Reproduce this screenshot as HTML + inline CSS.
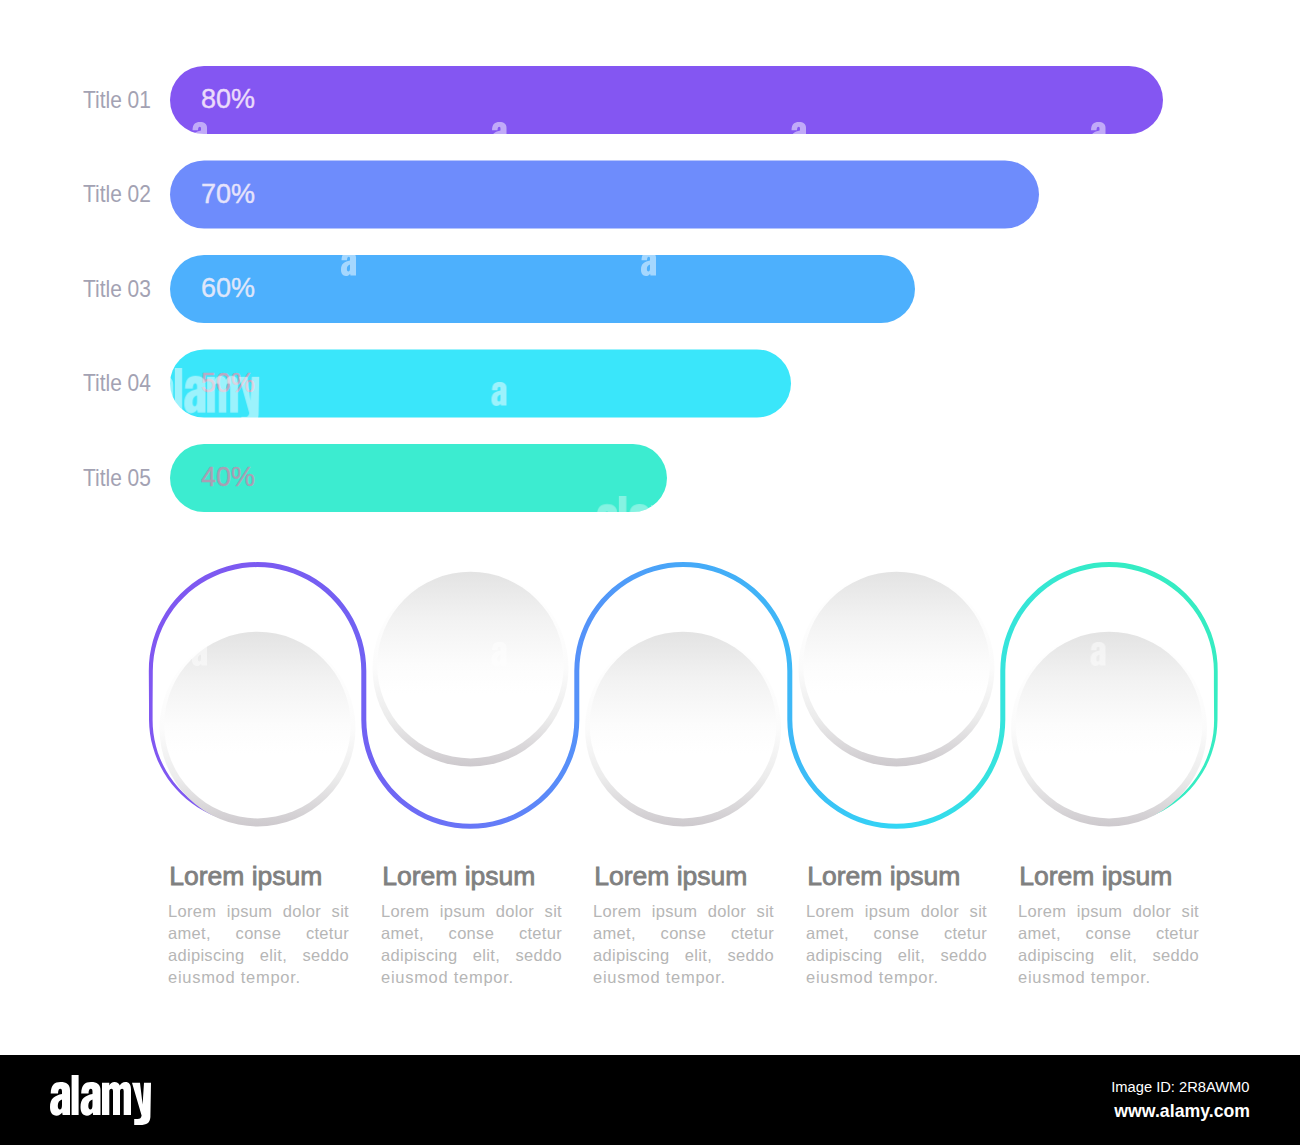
<!DOCTYPE html>
<html>
<head>
<meta charset="utf-8">
<title>Bar chart infographic</title>
<style>
  html, body { margin: 0; padding: 0; background: #ffffff; }
  body { width: 1300px; height: 1145px; position: relative; overflow: hidden;
         font-family: "Liberation Sans", sans-serif; }
  #gfx { position: absolute; left: 0; top: 0; }
  .title { position: absolute; left: 83px; width: 80px; height: 30px; line-height: 30px;
           font-size: 24.5px; color: #a3a2b3; white-space: nowrap;
           transform-origin: 0 50%; transform: scaleX(0.855); margin-top: 0.5px; }
  .pct { position: absolute; left: 201px; height: 30px; line-height: 30px;
         font-size: 27px; white-space: nowrap; transform-origin: 0 50%; transform: scaleX(1.0); -webkit-text-stroke: 0.4px currentColor; }
  .col { position: absolute; top: 860px; width: 181px; }
  .col h3 { margin: 0; font-size: 26.5px; line-height: 32px; font-weight: normal; color: #808080;
            white-space: nowrap; transform-origin: 0 50%; transform: scaleX(1.0); -webkit-text-stroke: 0.8px currentColor; margin-left: 1.2px; }
  .col p { margin: 7.5px 0 0 0; font-size: 16.5px; line-height: 22.2px; color: #b6b6b6; }
  .col p span { display: block; text-align: justify; text-align-last: justify; white-space: nowrap; letter-spacing: 0.3px; }
  .col p span.last { text-align: left; text-align-last: left; letter-spacing: 0.72px; }
  #footer { position: absolute; left: 0; top: 1055px; width: 1300px; height: 90px; background: #000; }
  #imgid { position: absolute; right: 50.5px; top: 1078px; color: #fff; font-size: 14.7px; line-height: 18px; white-space: nowrap; }
  #www { position: absolute; right: 50px; top: 1101px; color: #fff; font-size: 17.7px; line-height: 20px; font-weight: bold; white-space: nowrap; }
</style>
</head>
<body>
<svg id="gfx" width="1300" height="1145" viewBox="0 0 1300 1145">
  <defs>
    <linearGradient id="lineGrad" gradientUnits="userSpaceOnUse" x1="150" y1="0" x2="1216" y2="0">
      <stop offset="0" stop-color="#8057f1"/>
      <stop offset="0.1" stop-color="#7b5af1"/>
      <stop offset="0.2" stop-color="#7161f3"/>
      <stop offset="0.3" stop-color="#6876f7"/>
      <stop offset="0.4" stop-color="#5591f9"/>
      <stop offset="0.5" stop-color="#46a8f8"/>
      <stop offset="0.6" stop-color="#3eb8f7"/>
      <stop offset="0.7" stop-color="#32d6f5"/>
      <stop offset="0.8" stop-color="#36e4dc"/>
      <stop offset="0.9" stop-color="#34ecc4"/>
      <stop offset="1" stop-color="#36ecc2"/>
    </linearGradient>
    <linearGradient id="rimGrad" x1="0" y1="0" x2="0" y2="1">
      <stop offset="0" stop-color="#ffffff"/>
      <stop offset="0.5" stop-color="#fbfbfb"/>
      <stop offset="0.75" stop-color="#ececec"/>
      <stop offset="1" stop-color="#cdc9cd"/>
    </linearGradient>
    <linearGradient id="discGrad" x1="0" y1="0" x2="0" y2="1">
      <stop offset="0" stop-color="#e3e3e3"/>
      <stop offset="0.25" stop-color="#f2f2f2"/>
      <stop offset="0.5" stop-color="#fcfcfc"/>
      <stop offset="0.65" stop-color="#ffffff"/>
      <stop offset="1" stop-color="#ffffff"/>
    </linearGradient>
    <g id="alamy">
      <path id="ga" fill-rule="evenodd" d="M300 500 L300 250 C300 195 265 170 205 170 C145 170 110 198 107 285 L180 285 C182 250 190 238 203 238 C216 238 220 250 220 270 L220 290 C150 305 100 330 100 420 C100 475 125 507 165 507 C190 507 208 495 222 475 L226 500 Z M220 345 C190 355 178 375 178 410 C178 432 186 445 198 445 C212 445 220 430 220 400 Z"/>
      <rect x="316" y="100" width="70" height="400"/>
      <use href="#ga" x="305"/>
      <path d="M620 178 H693 V205 C703 182 720 170 745 170 C772 170 790 182 798 205 C810 182 828 170 853 170 C892 170 910 195 910 245 V500 H837 V262 C837 245 832 237 821 237 C808 237 800 247 800 265 V500 H730 V262 C730 245 725 237 714 237 C701 237 693 247 693 265 V500 H620 Z"/>
      <path d="M920 178 H1000 L1026 395 L1040 178 H1110 L1104 520 C1100 580 1068 600 1000 600 H942 V540 H975 C1000 540 1013 530 1016 505 Z"/>
    </g>
  </defs>

  <!-- bars -->
  <rect x="170" y="66" width="993" height="68" rx="34" fill="#8456f2"/>
  <rect x="170" y="160.5" width="869" height="68" rx="34" fill="#6e8cfc"/>
  <rect x="170" y="255" width="745" height="68" rx="34" fill="#4db0fd"/>
  <rect x="170" y="349.5" width="621" height="68" rx="34" fill="#3ae6fa"/>
  <rect x="170" y="444" width="497" height="68" rx="34" fill="#3cecd0"/>

  <!-- serpentine line -->
  <path id="snake" fill="url(#lineGrad)" d="M257.3 823.8 L250.4 823.2 L243.5 822.4 L236.6 821.2 L229.9 819.6 L223.3 817.5 L216.9 815.1 L210.6 812.2 L204.6 809.0 L198.7 805.4 L193.2 801.4 L187.9 797.1 L182.9 792.4 L178.2 787.5 L173.9 782.3 L169.9 776.8 L166.3 771.1 L163.1 765.1 L160.3 759.0 L157.9 752.7 L156.0 746.3 L154.5 739.8 L153.4 733.1 L152.8 726.5 L152.6 719.8 L152.6 714.9 L152.6 710.0 L152.6 705.2 L152.8 671.0 L153.1 663.5 L153.9 656.1 L155.3 648.8 L157.2 641.6 L159.6 634.5 L162.4 627.7 L165.8 621.0 L169.6 614.7 L173.9 608.6 L178.6 602.8 L183.7 597.4 L189.1 592.3 L194.9 587.7 L201.1 583.5 L207.5 579.7 L214.1 576.4 L221.0 573.6 L228.0 571.2 L235.2 569.4 L242.5 568.1 L249.9 567.3 L257.3 567.0 L264.7 567.3 L272.1 568.1 L279.4 569.4 L286.6 571.2 L293.6 573.6 L300.5 576.4 L307.1 579.7 L313.5 583.5 L319.6 587.7 L325.4 592.4 L330.8 597.5 L335.9 602.9 L340.6 608.7 L344.8 614.8 L348.6 621.2 L351.9 627.8 L354.7 634.7 L357.1 641.7 L358.9 648.9 L360.2 656.2 L361.0 663.6 L361.3 671.1 L361.3 675.9 L361.3 680.8 L361.3 685.6 L361.3 719.8 L361.6 727.6 L362.4 735.3 L363.8 743.0 L365.7 750.5 L368.2 757.9 L371.2 765.1 L374.6 772.0 L378.6 778.7 L383.0 785.1 L387.9 791.2 L393.2 796.9 L398.9 802.2 L405.0 807.1 L411.4 811.5 L418.1 815.5 L425.0 818.9 L432.2 821.9 L439.6 824.4 L447.1 826.3 L454.8 827.7 L462.5 828.5 L470.3 828.8 L478.1 828.5 L485.8 827.7 L493.5 826.3 L501.0 824.4 L508.4 821.9 L515.6 818.9 L522.5 815.5 L529.2 811.5 L535.6 807.1 L541.7 802.2 L547.4 796.9 L552.7 791.2 L557.6 785.1 L562.0 778.7 L566.0 772.0 L569.4 765.1 L572.4 757.9 L574.9 750.5 L576.8 743.0 L578.2 735.3 L579.0 727.6 L579.3 719.9 L579.3 714.9 L579.3 710.0 L579.3 705.2 L579.3 671.0 L579.6 663.6 L580.4 656.2 L581.7 648.9 L583.5 641.7 L585.9 634.7 L588.7 627.8 L592.0 621.2 L595.8 614.8 L600.0 608.7 L604.7 602.9 L609.8 597.5 L615.2 592.4 L621.0 587.7 L627.1 583.5 L633.5 579.7 L640.1 576.4 L647.0 573.6 L654.0 571.2 L661.2 569.4 L668.5 568.1 L675.9 567.3 L683.3 567.0 L690.7 567.3 L698.1 568.1 L705.4 569.4 L712.6 571.2 L719.6 573.6 L726.5 576.4 L733.1 579.7 L739.5 583.5 L745.6 587.7 L751.4 592.4 L756.8 597.5 L761.9 602.9 L766.6 608.7 L770.8 614.8 L774.6 621.2 L777.9 627.8 L780.7 634.7 L783.1 641.7 L784.9 648.9 L786.2 656.2 L787.0 663.6 L787.3 671.1 L787.3 675.9 L787.3 680.8 L787.3 685.6 L787.3 719.8 L787.6 727.6 L788.4 735.3 L789.8 743.0 L791.7 750.5 L794.2 757.9 L797.2 765.1 L800.6 772.0 L804.6 778.7 L809.0 785.1 L813.9 791.2 L819.2 796.9 L824.9 802.2 L831.0 807.1 L837.4 811.5 L844.1 815.5 L851.0 818.9 L858.2 821.9 L865.6 824.4 L873.1 826.3 L880.8 827.7 L888.5 828.5 L896.3 828.8 L904.1 828.5 L911.8 827.7 L919.5 826.3 L927.0 824.4 L934.4 821.9 L941.6 818.9 L948.5 815.5 L955.2 811.5 L961.6 807.1 L967.7 802.2 L973.4 796.9 L978.7 791.2 L983.6 785.1 L988.0 778.7 L992.0 772.0 L995.4 765.1 L998.4 757.9 L1000.9 750.5 L1002.8 743.0 L1004.2 735.3 L1005.0 727.6 L1005.3 719.9 L1005.3 714.9 L1005.3 710.0 L1005.3 705.2 L1005.3 671.0 L1005.6 663.6 L1006.4 656.2 L1007.7 648.9 L1009.5 641.7 L1011.9 634.7 L1014.7 627.8 L1018.0 621.2 L1021.8 614.8 L1026.0 608.7 L1030.7 602.9 L1035.8 597.5 L1041.2 592.4 L1047.0 587.7 L1053.1 583.5 L1059.5 579.7 L1066.1 576.4 L1073.0 573.6 L1080.0 571.2 L1087.2 569.4 L1094.5 568.1 L1101.9 567.3 L1109.3 567.0 L1116.7 567.3 L1124.1 568.1 L1131.4 569.4 L1138.6 571.2 L1145.6 573.6 L1152.5 576.4 L1159.2 579.7 L1165.6 583.4 L1171.7 587.7 L1177.5 592.3 L1183.0 597.3 L1188.1 602.8 L1192.8 608.5 L1197.0 614.6 L1200.9 621.0 L1204.2 627.7 L1207.1 634.5 L1209.5 641.6 L1211.4 648.8 L1212.7 656.1 L1213.6 663.5 L1213.9 671.0 L1213.9 675.9 L1213.9 680.8 L1213.9 685.6 L1214.1 719.8 L1213.9 726.5 L1213.3 733.2 L1212.2 739.8 L1210.7 746.3 L1208.7 752.7 L1206.4 759.0 L1203.6 765.2 L1200.4 771.1 L1196.8 776.8 L1192.8 782.3 L1188.5 787.6 L1183.8 792.5 L1178.8 797.2 L1173.5 801.5 L1167.9 805.4 L1162.1 809.1 L1156.0 812.3 L1149.8 815.2 L1143.3 817.6 L1136.7 819.6 L1130.0 821.3 L1123.1 822.5 L1116.2 823.3 L1109.3 823.8 L1109.3 823.8 L1116.3 823.9 L1123.3 823.3 L1130.2 822.3 L1137.0 820.9 L1143.8 819.0 L1150.4 816.6 L1156.8 813.8 L1163.0 810.7 L1169.0 807.1 L1174.8 803.1 L1180.2 798.8 L1185.4 794.2 L1190.3 789.2 L1194.8 783.9 L1198.9 778.3 L1202.7 772.5 L1206.1 766.4 L1209.0 760.2 L1211.5 753.7 L1213.6 747.1 L1215.3 740.4 L1216.5 733.6 L1217.2 726.7 L1217.5 719.8 L1217.7 685.6 L1217.7 680.8 L1217.7 675.9 L1217.7 671.0 L1217.5 663.3 L1216.7 655.6 L1215.4 647.9 L1213.5 640.4 L1211.1 633.0 L1208.1 625.9 L1204.7 618.9 L1200.8 612.2 L1196.4 605.8 L1191.5 599.8 L1186.3 594.0 L1180.6 588.7 L1174.6 583.8 L1168.2 579.4 L1161.5 575.4 L1154.6 571.9 L1147.4 568.9 L1140.0 566.4 L1132.5 564.5 L1124.8 563.1 L1117.1 562.3 L1109.3 562.0 L1101.5 562.3 L1093.8 563.1 L1086.1 564.5 L1078.6 566.4 L1071.2 568.9 L1064.0 571.9 L1057.1 575.3 L1050.4 579.3 L1044.0 583.7 L1037.9 588.6 L1032.2 593.9 L1026.9 599.6 L1022.0 605.7 L1017.6 612.1 L1013.6 618.8 L1010.2 625.7 L1007.2 632.9 L1004.7 640.3 L1002.8 647.8 L1001.4 655.5 L1000.6 663.2 L1000.3 671.0 L1000.3 705.2 L1000.3 710.0 L1000.3 714.9 L1000.3 719.7 L1000.0 727.2 L999.2 734.6 L997.9 741.9 L996.1 749.1 L993.7 756.1 L990.9 763.0 L987.6 769.6 L983.8 776.0 L979.6 782.1 L974.9 787.9 L969.8 793.3 L964.4 798.4 L958.6 803.1 L952.5 807.3 L946.1 811.1 L939.5 814.4 L932.6 817.2 L925.6 819.6 L918.4 821.4 L911.1 822.7 L903.7 823.5 L896.3 823.8 L888.9 823.5 L881.5 822.7 L874.2 821.4 L867.0 819.6 L860.0 817.2 L853.1 814.4 L846.5 811.1 L840.1 807.3 L834.0 803.1 L828.2 798.4 L822.8 793.3 L817.7 787.9 L813.0 782.1 L808.8 776.0 L805.0 769.6 L801.7 763.0 L798.9 756.1 L796.5 749.1 L794.7 741.9 L793.4 734.6 L792.6 727.2 L792.3 719.8 L792.3 685.6 L792.3 680.8 L792.3 675.9 L792.3 670.9 L792.0 663.2 L791.2 655.5 L789.8 647.8 L787.9 640.3 L785.4 632.9 L782.4 625.7 L779.0 618.8 L775.0 612.1 L770.6 605.7 L765.7 599.6 L760.4 593.9 L754.7 588.6 L748.6 583.7 L742.2 579.3 L735.5 575.3 L728.6 571.9 L721.4 568.9 L714.0 566.4 L706.5 564.5 L698.8 563.1 L691.1 562.3 L683.3 562.0 L675.5 562.3 L667.8 563.1 L660.1 564.5 L652.6 566.4 L645.2 568.9 L638.0 571.9 L631.1 575.3 L624.4 579.3 L618.0 583.7 L611.9 588.6 L606.2 593.9 L600.9 599.6 L596.0 605.7 L591.6 612.1 L587.6 618.8 L584.2 625.7 L581.2 632.9 L578.7 640.3 L576.8 647.8 L575.4 655.5 L574.6 663.2 L574.3 671.0 L574.3 705.2 L574.3 710.0 L574.3 714.9 L574.3 719.7 L574.0 727.2 L573.2 734.6 L571.9 741.9 L570.1 749.1 L567.7 756.1 L564.9 763.0 L561.6 769.6 L557.8 776.0 L553.6 782.1 L548.9 787.9 L543.8 793.3 L538.4 798.4 L532.6 803.1 L526.5 807.3 L520.1 811.1 L513.5 814.4 L506.6 817.2 L499.6 819.6 L492.4 821.4 L485.1 822.7 L477.7 823.5 L470.3 823.8 L462.9 823.5 L455.5 822.7 L448.2 821.4 L441.0 819.6 L434.0 817.2 L427.1 814.4 L420.5 811.1 L414.1 807.3 L408.0 803.1 L402.2 798.4 L396.8 793.3 L391.7 787.9 L387.0 782.1 L382.8 776.0 L379.0 769.6 L375.7 763.0 L372.9 756.1 L370.5 749.1 L368.7 741.9 L367.4 734.6 L366.6 727.2 L366.3 719.8 L366.3 685.6 L366.3 680.8 L366.3 675.9 L366.3 670.9 L366.0 663.2 L365.2 655.5 L363.8 647.8 L361.9 640.3 L359.4 632.9 L356.4 625.7 L353.0 618.8 L349.0 612.1 L344.6 605.7 L339.7 599.6 L334.4 593.9 L328.7 588.6 L322.6 583.7 L316.2 579.3 L309.5 575.3 L302.6 571.9 L295.4 568.9 L288.0 566.4 L280.5 564.5 L272.8 563.1 L265.1 562.3 L257.3 562.0 L249.5 562.3 L241.8 563.1 L234.1 564.5 L226.6 566.4 L219.2 568.9 L212.0 571.9 L205.1 575.3 L198.4 579.3 L192.0 583.8 L186.0 588.7 L180.3 594.0 L175.0 599.7 L170.2 605.8 L165.8 612.2 L161.9 618.9 L158.4 625.8 L155.5 633.0 L153.0 640.4 L151.2 647.9 L149.8 655.5 L149.0 663.3 L148.8 671.0 L149.0 705.2 L149.0 710.0 L149.0 714.9 L149.0 719.8 L149.3 726.7 L150.0 733.6 L151.2 740.4 L152.9 747.1 L155.0 753.7 L157.5 760.2 L160.5 766.5 L163.8 772.5 L167.6 778.4 L171.7 783.9 L176.3 789.2 L181.1 794.2 L186.3 798.9 L191.8 803.2 L197.5 807.2 L203.5 810.8 L209.8 813.9 L216.2 816.7 L222.8 819.1 L229.6 821.0 L236.4 822.4 L243.3 823.4 L250.3 823.9 L257.3 823.8Z"/>

  <!-- circles -->
  <g id="circles">
    <g transform="translate(257.5,728.5)"><circle r="98" fill="url(#rimGrad)"/><circle r="93.3" cy="-3.4" fill="url(#discGrad)"/></g>
    <g transform="translate(470.5,668.5)"><circle r="98" fill="url(#rimGrad)"/><circle r="93.3" cy="-3.4" fill="url(#discGrad)"/></g>
    <g transform="translate(683,728.5)"><circle r="98" fill="url(#rimGrad)"/><circle r="93.3" cy="-3.4" fill="url(#discGrad)"/></g>
    <g transform="translate(896.5,668.5)"><circle r="98" fill="url(#rimGrad)"/><circle r="93.3" cy="-3.4" fill="url(#discGrad)"/></g>
    <g transform="translate(1109,728.5)"><circle r="98" fill="url(#rimGrad)"/><circle r="93.3" cy="-3.4" fill="url(#discGrad)"/></g>
  </g>
</svg>

<div class="title" style="top:84px">Title 01</div>
<div class="title" style="top:178.5px">Title 02</div>
<div class="title" style="top:273px">Title 03</div>
<div class="title" style="top:367.5px">Title 04</div>
<div class="title" style="top:462px">Title 05</div>

<div class="pct" style="top:84px;color:#ebdcfb">80%</div>
<div class="pct" style="top:178.5px;color:#e6e3fb">70%</div>
<div class="pct" style="top:273px;color:#dfe6fa">60%</div>
<div class="pct" style="top:367.5px;color:#b9a9c4">50%</div>
<div class="pct" style="top:462px;color:#a99fb4">40%</div>

<div class="col" style="left:168px"><h3>Lorem ipsum</h3><p><span>Lorem ipsum dolor sit</span><span>amet, conse ctetur</span><span>adipiscing elit, seddo</span><span class="last">eiusmod tempor.</span></p></div>
<div class="col" style="left:381px"><h3>Lorem ipsum</h3><p><span>Lorem ipsum dolor sit</span><span>amet, conse ctetur</span><span>adipiscing elit, seddo</span><span class="last">eiusmod tempor.</span></p></div>
<div class="col" style="left:593px"><h3>Lorem ipsum</h3><p><span>Lorem ipsum dolor sit</span><span>amet, conse ctetur</span><span>adipiscing elit, seddo</span><span class="last">eiusmod tempor.</span></p></div>
<div class="col" style="left:806px"><h3>Lorem ipsum</h3><p><span>Lorem ipsum dolor sit</span><span>amet, conse ctetur</span><span>adipiscing elit, seddo</span><span class="last">eiusmod tempor.</span></p></div>
<div class="col" style="left:1018px"><h3>Lorem ipsum</h3><p><span>Lorem ipsum dolor sit</span><span>amet, conse ctetur</span><span>adipiscing elit, seddo</span><span class="last">eiusmod tempor.</span></p></div>

<svg id="wmlayer" width="1300" height="1145" viewBox="0 0 1300 1145" style="position:absolute;left:0;top:0">
  <g id="wm" fill="#ffffff" opacity="0.5">
    <use href="#ga" transform="translate(184.50,109.89) scale(0.0750,0.0712)"/>
    <use href="#ga" transform="translate(484.00,109.89) scale(0.0750,0.0712)"/>
    <use href="#ga" transform="translate(783.50,109.89) scale(0.0750,0.0712)"/>
    <use href="#ga" transform="translate(1083.00,109.89) scale(0.0750,0.0712)"/>
    <use href="#ga" transform="translate(333.50,239.89) scale(0.0750,0.0712)"/>
    <use href="#ga" transform="translate(633.50,239.89) scale(0.0750,0.0712)"/>
    <use href="#ga" transform="translate(484.00,369.89) scale(0.0750,0.0712)"/>
    <use href="#ga" transform="translate(184.50,629.89) scale(0.0750,0.0712)"/>
    <use href="#ga" transform="translate(484.00,629.89) scale(0.0750,0.0712)"/>
    <use href="#ga" transform="translate(1083.00,629.89) scale(0.0750,0.0712)"/>
    <use href="#alamy" transform="translate(141.20,356.90) scale(0.1064,0.1110)"/>
  </g>
  <clipPath id="bar5clip"><rect x="170" y="444" width="497" height="68" rx="34"/></clipPath>
  <g fill="#ffffff" opacity="0.38" clip-path="url(#bar5clip)"><use href="#alamy" transform="translate(585.20,485.20) scale(0.1064,0.1110)"/></g>
</svg>
<div id="footer"></div>
<svg width="130" height="70" viewBox="0 0 1300 700" style="position:absolute;left:40px;top:1065px"><use href="#alamy" fill="#ffffff"/></svg>
<div id="imgid">Image ID: 2R8AWM0</div>
<div id="www">www.alamy.com</div>
</body>
</html>
